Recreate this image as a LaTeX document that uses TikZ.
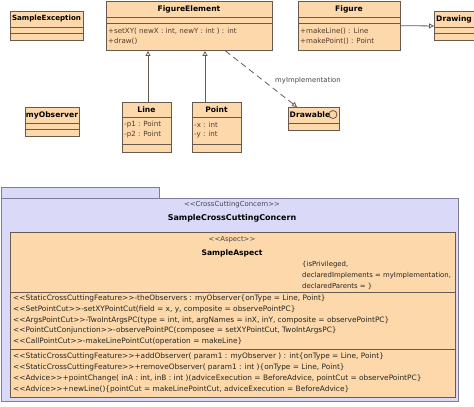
\documentclass[tikz,border=0pt]{standalone}
\usepackage{fontspec}
\setmainfont{DejaVu Sans}[Ligatures=TeXOff]
\usetikzlibrary{arrows.meta}
\definecolor{classfill}{RGB}{253,216,170}
\definecolor{classline}{RGB}{105,90,80}
\definecolor{pkgfill}{RGB}{218,218,248}
\definecolor{pkgline}{RGB}{125,125,155}
\definecolor{memtext}{RGB}{80,60,50}
\definecolor{stereo}{RGB}{70,70,80}

\begin{document}
\begin{tikzpicture}[x=1pt, y=-1pt,
    classbox/.style = {draw=classline, fill=classfill, line width=0.9pt, anchor=north west, inner sep=0pt},
    pkgbox/.style = {draw=pkgline, fill=pkgfill, line width=0.9pt, anchor=north west, inner sep=0pt},
    divider/.style = {classline, line width=0.7pt},
    title/.style = {font=\bfseries\fontsize{7.6}{9}\selectfont, inner sep=0pt},
    member/.style = {font=\fontsize{7.1}{8}\selectfont, text=memtext, anchor=west, inner sep=0pt},
    feature/.style = {font=\fontsize{7.4}{8}\selectfont, text=black!85, anchor=west, inner sep=0pt},
    stereotype/.style = {font=\fontsize{6.9}{8}\selectfont, text=stereo, inner sep=0pt},
    gen/.style = {classline, line width=0.8pt, -{Triangle[open, length=5pt, width=5pt]}}]
    \useasboundingbox (0,0) rectangle (474,407);

    % top classes
    \node[classbox, minimum width=73pt, minimum height=29pt] (exc) at (10,11) {};
    \node[title, font=\bfseries\fontsize{7.1}{9}\selectfont] (exc-t) at (46.5,19) {SampleException};
    \draw[divider] (10,27) -- (83,27);
    \draw[divider] (10,33) -- (83,33);

    \node[classbox, minimum width=166pt, minimum height=49.5pt] (fe) at (106,0.5) {};
    \node[title] (fe-t) at (189,9) {FigureElement};
    \draw[divider] (106,17) -- (272,17);
    \draw[divider] (106,23) -- (272,23);
    \node[member] (fe-1) at (108,31) {+setXY( newX : int, newY : int ) : int};
    \node[member] (fe-2) at (108,41) {+draw()};

    \node[classbox, minimum width=102pt, minimum height=49.5pt] (fig) at (298,0.5) {};
    \node[title] (fig-t) at (349,9) {Figure};
    \draw[divider] (298,17) -- (400,17);
    \draw[divider] (298,23) -- (400,23);
    \node[member] (fig-1) at (300,31) {+makeLine() : Line};
    \node[member] (fig-2) at (300,41) {+makePoint() : Point};

    \node[classbox, minimum width=44pt, minimum height=29pt] (dw) at (434,11) {};
    \node[title, anchor=west] (dw-t) at (436,19) {Drawing};
    \draw[divider] (434,27) -- (478,27);
    \draw[divider] (434,33) -- (478,33);

    % middle classes
    \node[classbox, minimum width=54pt, minimum height=29pt] (obs) at (25,107) {};
    \node[title] (obs-t) at (52,115) {myObserver};
    \draw[divider] (25,123) -- (79,123);
    \draw[divider] (25,129) -- (79,129);

    \node[classbox, minimum width=49pt, minimum height=50pt] (line) at (122,102) {};
    \node[title] (line-t) at (146.5,109.5) {Line};
    \draw[divider] (122,117) -- (171,117);
    \node[member] (line-1) at (124,125) {-p1 : Point};
    \node[member] (line-2) at (124,135) {-p2 : Point};
    \draw[divider] (122,144) -- (171,144);

    \node[classbox, minimum width=49pt, minimum height=50pt] (pt) at (192,102) {};
    \node[title] (pt-t) at (216.5,109.5) {Point};
    \draw[divider] (192,117) -- (241,117);
    \node[member] (pt-1) at (194,125) {-x : int};
    \node[member] (pt-2) at (194,135) {-y : int};
    \draw[divider] (192,144) -- (241,144);

    \node[classbox, minimum width=51pt, minimum height=23pt] (dr) at (288,107) {};
    \node[title, anchor=west] (dr-t) at (289.5,114.5) {Drawable};
    \draw[classline, line width=0.8pt] (333,114.5) circle[radius=4pt];
    \draw[divider] (288,123) -- (339,123);

    % connectors
    \draw[gen] ([xshift=26pt]line.north west) -- ([xshift=26pt]line.north west |- fe.south);
    \draw[gen] ([xshift=13pt]pt.north west) -- ([xshift=13pt]pt.north west |- fe.south);
    \draw[gen, dash pattern=on 6pt off 4pt] ([xshift=36pt]fe.south) -- ([xshift=9pt]dr.north west);
    \node[stereotype, anchor=west] (impl) at (275,81) {myImplementation};
    \draw[classline, line width=0.8pt, -{Triangle[open, length=5pt, width=5pt]}] (fig.east) -- (dw.west);

    % package
    \node[pkgbox, minimum width=158.5pt, minimum height=11pt] (pkg-tab) at (0.5,187) {};
    \node[pkgbox, minimum width=457.5pt, minimum height=203pt] (pkg) at (0.5,198) {};
    \node[stereotype] (pkg-s) at (232,205) {<<CrossCuttingConcern>>};
    \node[title, font=\bfseries\fontsize{8}{10}\selectfont] (pkg-t) at (232,218) {SampleCrossCuttingConcern};

    % aspect
    \node[classbox, minimum width=445pt, minimum height=165pt] (asp) at (10,232) {};
    \node[stereotype] (asp-s) at (232,240) {<<Aspect>>};
    \node[title] (asp-t) at (232,253) {SampleAspect};
    \node[feature, font=\fontsize{6.9}{8}\selectfont] (tag-1) at (302,265) {\{isPrivileged,};
    \node[feature, font=\fontsize{6.9}{8}\selectfont] (tag-2) at (302,276) {declaredImplements = myImplementation,};
    \node[feature, font=\fontsize{6.9}{8}\selectfont] (tag-3) at (302,286) {declaredParents = \}};
    \draw[divider] (10,292) -- (455,292);
    \node[feature] (att-1) at (13,298) {<<StaticCrossCuttingFeature>>-theObservers : myObserver\{onType = Line, Point\}};
    \node[feature] (att-2) at (13,309) {<<SetPointCut>>-setXYPointCut(field = x, y, composite = observePointPC\}};
    \node[feature] (att-3) at (13,320) {<<ArgsPointCut>>-TwoIntArgsPC(type = int, int, argNames = inX, inY, composite = observePointPC\}};
    \node[feature] (att-4) at (13,330) {<<PointCutConjunction>>-observePointPC(composee = setXYPointCut, TwoIntArgsPC\}};
    \node[feature] (att-5) at (13,341) {<<CallPointCut>>-makeLinePointCut(operation = makeLine\}};
    \draw[divider] (10,349) -- (455,349);
    \node[feature] (op-1) at (13,356) {<<StaticCrossCuttingFeature>>+addObserver( param1 : myObserver ) : int\{onType = Line, Point\}};
    \node[feature] (op-2) at (13,367) {<<StaticCrossCuttingFeature>>+removeObserver( param1 : int )\{onType = Line, Point\}};
    \node[feature] (op-3) at (13,378) {<<Advice>>+pointChange( inA : int, inB : int )(adviceExecution = BeforeAdvice, pointCut = observePointPC\}};
    \node[feature] (op-4) at (13,389) {<<Advice>>+newLine()\{pointCut = makeLinePointCut, adviceExecution = BeforeAdvice\}};
\end{tikzpicture}
\end{document}
